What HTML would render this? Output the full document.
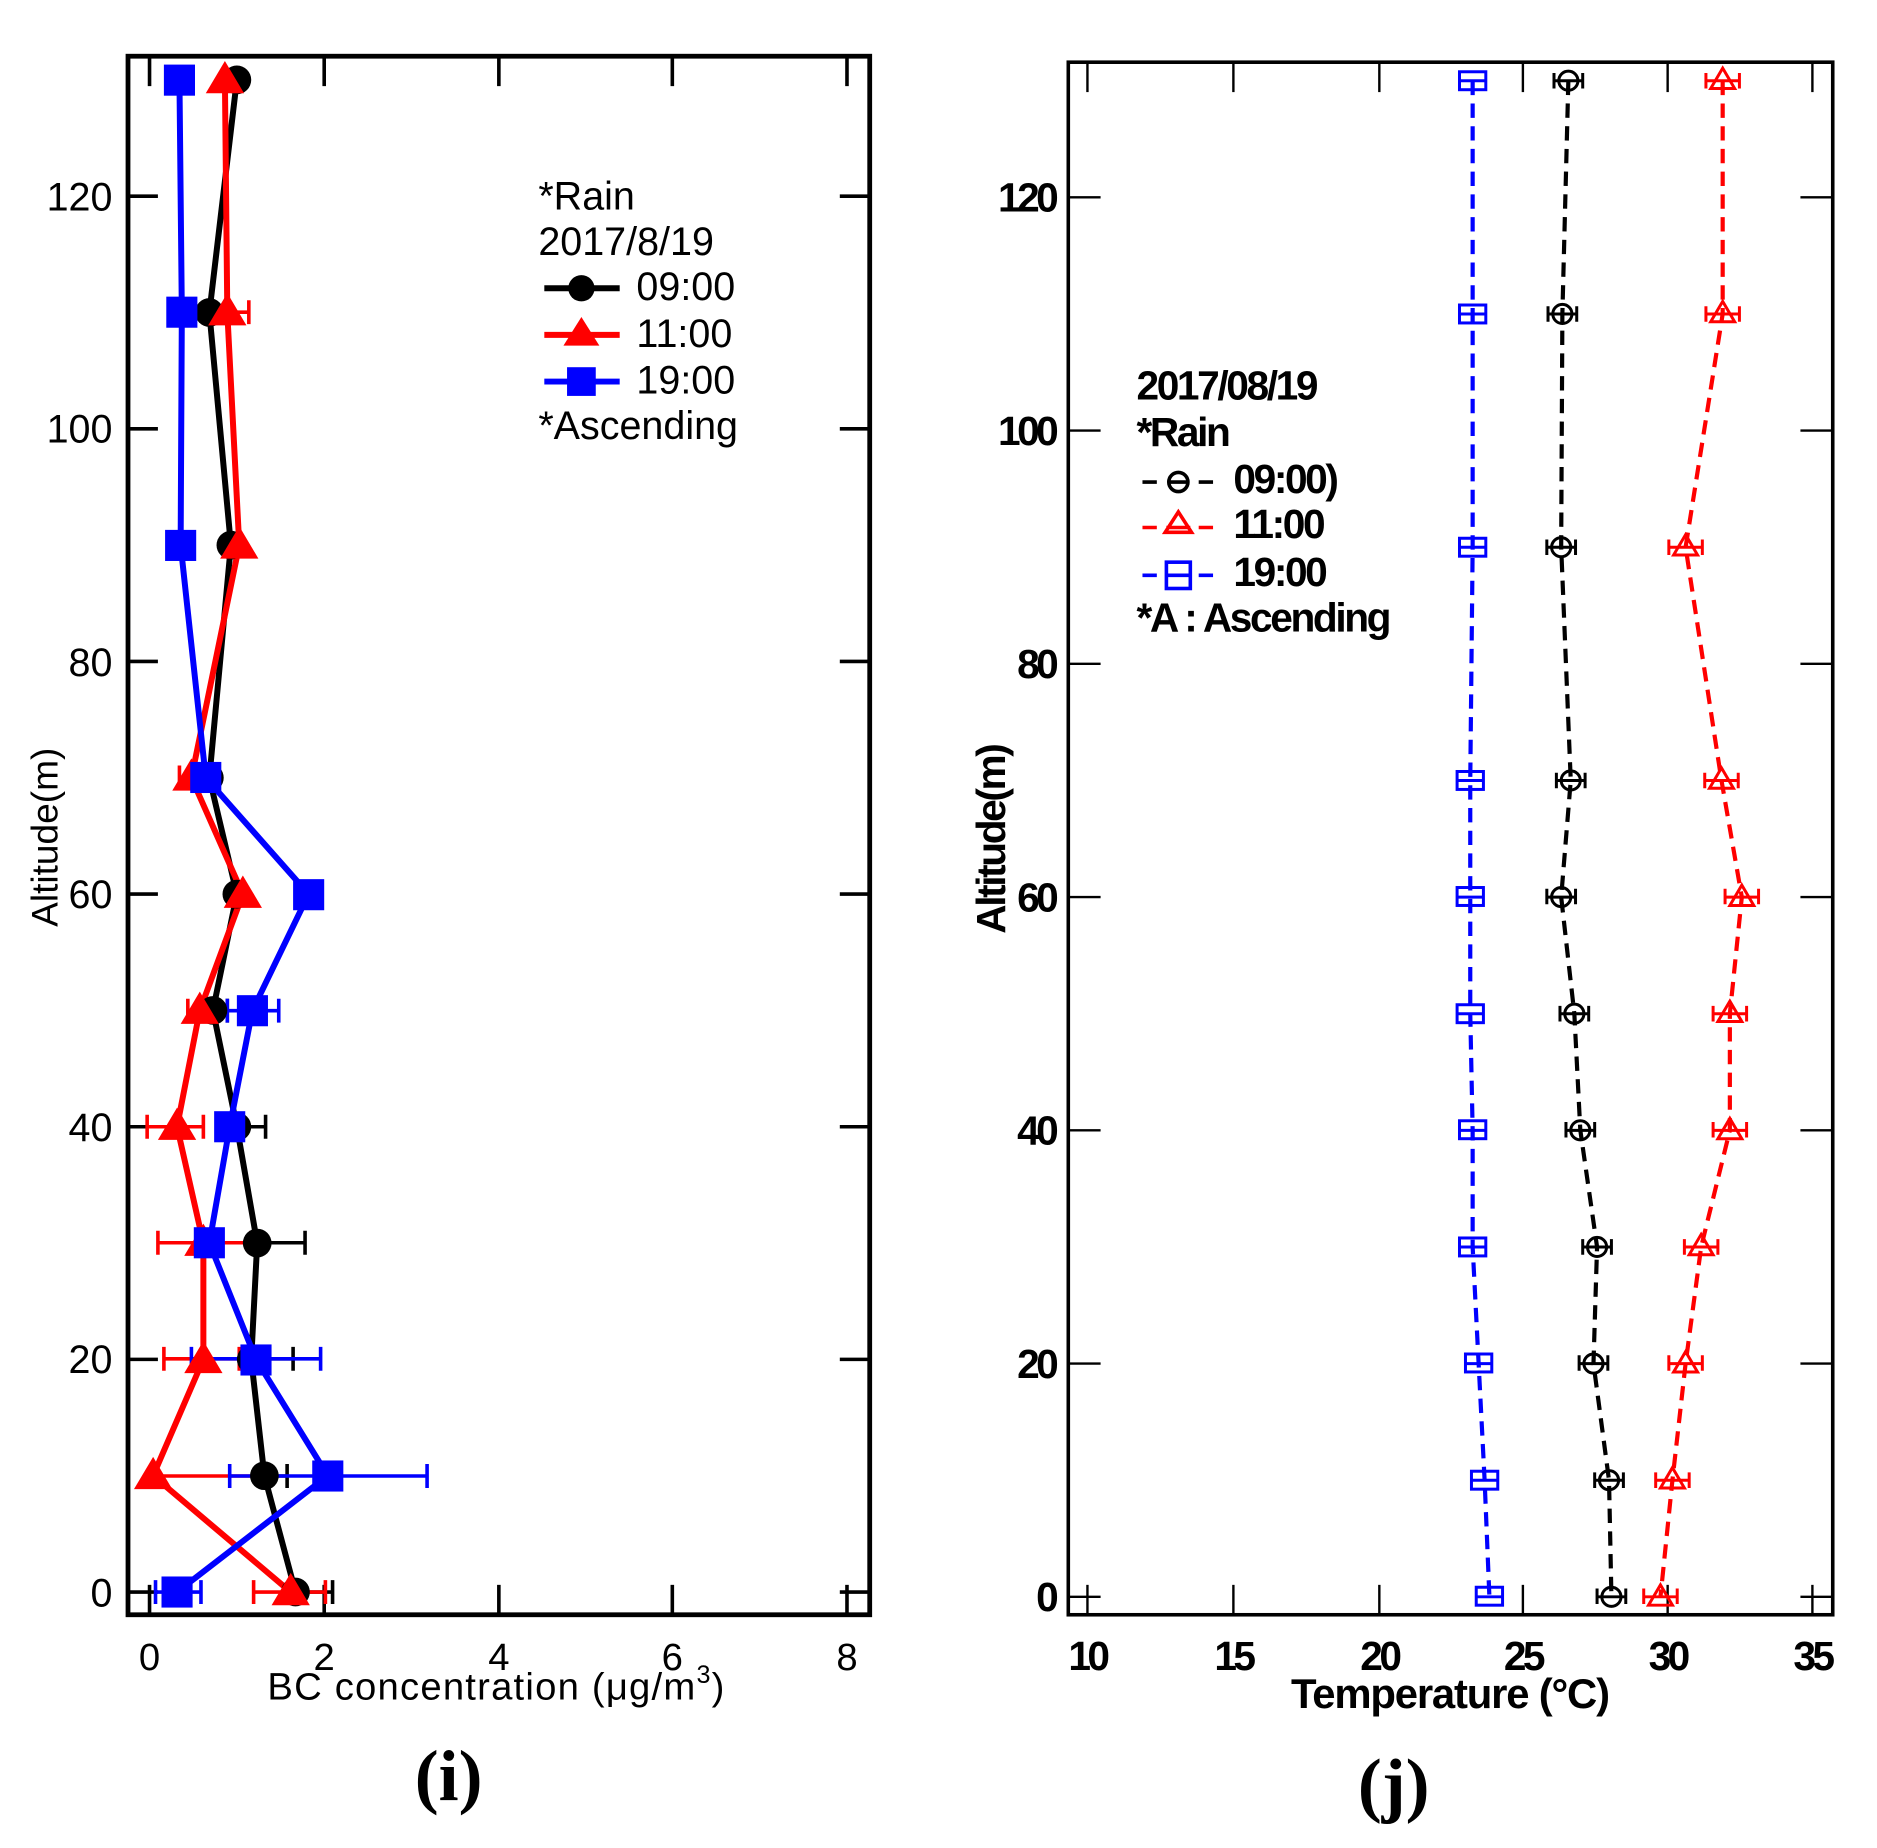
<!DOCTYPE html>
<html><head><meta charset="utf-8"><style>
html,body{margin:0;padding:0;background:#fff;}
svg{display:block;}
</style></head><body>
<svg width="1877" height="1848" viewBox="0 0 1569 1545" preserveAspectRatio="none" xmlns="http://www.w3.org/2000/svg">
<rect width="1569" height="1545" fill="#fff"/>
<g stroke="#000" stroke-width="4" fill="none">
<rect x="107" y="47" width="620" height="1303"/>
</g>
<g stroke="#000" stroke-width="3">
<line x1="107" y1="1331" x2="132" y2="1331"/><line x1="727" y1="1331" x2="702" y2="1331"/>
<line x1="107" y1="1136.5" x2="132" y2="1136.5"/><line x1="727" y1="1136.5" x2="702" y2="1136.5"/>
<line x1="107" y1="942" x2="132" y2="942"/><line x1="727" y1="942" x2="702" y2="942"/>
<line x1="107" y1="747.5" x2="132" y2="747.5"/><line x1="727" y1="747.5" x2="702" y2="747.5"/>
<line x1="107" y1="553" x2="132" y2="553"/><line x1="727" y1="553" x2="702" y2="553"/>
<line x1="107" y1="358.5" x2="132" y2="358.5"/><line x1="727" y1="358.5" x2="702" y2="358.5"/>
<line x1="107" y1="164" x2="132" y2="164"/><line x1="727" y1="164" x2="702" y2="164"/>
<line x1="125" y1="47" x2="125" y2="72"/><line x1="125" y1="1350" x2="125" y2="1325"/>
<line x1="271" y1="47" x2="271" y2="72"/><line x1="271" y1="1350" x2="271" y2="1325"/>
<line x1="417" y1="47" x2="417" y2="72"/><line x1="417" y1="1350" x2="417" y2="1325"/>
<line x1="562" y1="47" x2="562" y2="72"/><line x1="562" y1="1350" x2="562" y2="1325"/>
<line x1="708" y1="47" x2="708" y2="72"/><line x1="708" y1="1350" x2="708" y2="1325"/>
</g>
<g font-family="Liberation Sans, sans-serif" font-size="33" fill="#000" text-anchor="end">
<text x="94" y="1343">0</text><text x="94" y="1148">20</text><text x="94" y="954">40</text>
<text x="94" y="759">60</text><text x="94" y="565">80</text><text x="94" y="370">100</text><text x="94" y="176">120</text>
</g>
<g font-family="Liberation Sans, sans-serif" font-size="32" fill="#000" text-anchor="middle">
<text x="125" y="1396">0</text><text x="271" y="1396">2</text><text x="417" y="1396">4</text><text x="562" y="1396">6</text><text x="708" y="1396">8</text>
<text x="415" y="1421" letter-spacing="1">BC concentration (μg/m<tspan font-size="21" dy="-14">3</tspan><tspan dy="14">)</tspan></text>
</g>
<text transform="translate(48,700) rotate(-90)" font-family="Liberation Sans, sans-serif" font-size="31" text-anchor="middle">Altitude(m)</text>
<text x="375" y="1505" font-family="Liberation Serif, serif" font-size="60" font-weight="bold" text-anchor="middle">(i)</text>
<g stroke-width="3" fill="none">
<g stroke="#000">
<path d="M198 942H222M222 932V952M215 1039H255M255 1029V1049M210 1136H245M245 1126V1146M221 1234H240M240 1224V1244M247 1331H278M278 1321V1341M178 845H190M190 835V855"/>
</g>
<g stroke="#f00">
<path d="M172 261H208M172 251V271M208 251V271M150 650H175M150 640V660M157 845H175M157 835V855M123 942H170M123 932V952M170 932V952M132 1039H210M132 1029V1049M210 1029V1049M137 1136H200M137 1126V1146M200 1126V1146M128 1234H215M212 1331H272M212 1321V1341M272 1321V1341"/>
</g>
<g stroke="#00f">
<path d="M190 845H233M190 835V855M233 835V855M160 1136H268M160 1126V1146M268 1126V1146M192 1234H357M192 1224V1244M357 1224V1244M130 1331H168M130 1321V1341M168 1321V1341"/>
</g>
</g>
<polyline fill="none" stroke="#000" stroke-width="5" points="198,66.75 175,261.25 193,455.75 175,650.25 198,747.5 178,844.75 198,942 215,1039.25 210,1136.5 221,1233.75 247,1331"/>
<polyline fill="none" stroke="#f00" stroke-width="5" points="188,66.75 190,261.25 200,455.75 160,650.25 203,747.5 167,844.75 148,942 170,1039.25 170,1136.5 128,1233.75 243,1331"/>
<polyline fill="none" stroke="#00f" stroke-width="5" points="150,66.75 152,261.25 151,455.75 172,650.25 258,747.5 211,844.75 192,942 175,1039.25 214,1136.5 274,1233.75 148,1331"/>
<g fill="#000">
<circle cx="198" cy="66.75" r="12"/><circle cx="175" cy="261.25" r="12"/><circle cx="193" cy="455.75" r="12"/><circle cx="175" cy="650.25" r="12"/><circle cx="198" cy="747.5" r="12"/><circle cx="178" cy="844.75" r="12"/><circle cx="198" cy="942" r="12"/><circle cx="215" cy="1039.25" r="12"/><circle cx="210" cy="1136.5" r="12"/><circle cx="221" cy="1233.75" r="12"/><circle cx="247" cy="1331" r="12"/>
</g>
<g fill="#f00">
<path d="M188 51l16 27h-32z"/><path d="M190 245l16 27h-32z"/><path d="M200 440l16 27h-32z"/><path d="M160 634l16 27h-32z"/><path d="M203 732l16 27h-32z"/><path d="M167 829l16 27h-32z"/><path d="M148 926l16 27h-32z"/><path d="M170 1023l16 27h-32z"/><path d="M170 1121l16 27h-32z"/><path d="M128 1218l16 27h-32z"/><path d="M243 1315l16 27h-32z"/>
</g>
<g fill="#00f">
<rect x="137" y="54" width="26" height="26"/><rect x="139" y="248" width="26" height="26"/><rect x="138" y="443" width="26" height="26"/><rect x="159" y="637" width="26" height="26"/><rect x="245" y="735" width="26" height="26"/><rect x="198" y="832" width="26" height="26"/><rect x="179" y="929" width="26" height="26"/><rect x="162" y="1026" width="26" height="26"/><rect x="201" y="1124" width="26" height="26"/><rect x="261" y="1221" width="26" height="26"/><rect x="135" y="1318" width="26" height="26"/>
</g>
<g font-family="Liberation Sans, sans-serif" font-size="33" fill="#000">
<text x="450" y="175">*Rain</text>
<text x="450" y="213">2017/8/19</text>
<text x="532" y="251">09:00</text>
<text x="532" y="290">11:00</text>
<text x="532" y="329">19:00</text>
<text x="450" y="367">*Ascending</text>
</g>
<line x1="455" y1="241" x2="518" y2="241" stroke="#000" stroke-width="5"/><circle cx="486" cy="241" r="11"/>
<line x1="455" y1="280" x2="518" y2="280" stroke="#f00" stroke-width="5"/><path d="M486 265l15 24h-30z" fill="#f00"/>
<line x1="455" y1="319" x2="518" y2="319" stroke="#00f" stroke-width="5"/><rect x="474" y="307" width="24" height="24" fill="#00f"/>

<rect x="893" y="52" width="639" height="1298" fill="none" stroke="#000" stroke-width="3"/>
<g stroke="#000" stroke-width="2">
<line x1="893" y1="1335" x2="920" y2="1335"/><line x1="1532" y1="1335" x2="1505" y2="1335"/>
<line x1="893" y1="1140" x2="920" y2="1140"/><line x1="1532" y1="1140" x2="1505" y2="1140"/>
<line x1="893" y1="945" x2="920" y2="945"/><line x1="1532" y1="945" x2="1505" y2="945"/>
<line x1="893" y1="750" x2="920" y2="750"/><line x1="1532" y1="750" x2="1505" y2="750"/>
<line x1="893" y1="555" x2="920" y2="555"/><line x1="1532" y1="555" x2="1505" y2="555"/>
<line x1="893" y1="360" x2="920" y2="360"/><line x1="1532" y1="360" x2="1505" y2="360"/>
<line x1="893" y1="165" x2="920" y2="165"/><line x1="1532" y1="165" x2="1505" y2="165"/>
<line x1="909" y1="52" x2="909" y2="77"/><line x1="909" y1="1350" x2="909" y2="1325"/>
<line x1="1031" y1="52" x2="1031" y2="77"/><line x1="1031" y1="1350" x2="1031" y2="1325"/>
<line x1="1153" y1="52" x2="1153" y2="77"/><line x1="1153" y1="1350" x2="1153" y2="1325"/>
<line x1="1273" y1="52" x2="1273" y2="77"/><line x1="1273" y1="1350" x2="1273" y2="1325"/>
<line x1="1394" y1="52" x2="1394" y2="77"/><line x1="1394" y1="1350" x2="1394" y2="1325"/>
<line x1="1515" y1="52" x2="1515" y2="77"/><line x1="1515" y1="1350" x2="1515" y2="1325"/>
</g>
<g font-family="Liberation Sans, sans-serif" font-size="34" font-weight="bold" fill="#000" text-anchor="end" letter-spacing="-3">
<text x="882" y="1347">0</text><text x="882" y="1152">20</text><text x="882" y="957">40</text>
<text x="882" y="762">60</text><text x="882" y="567">80</text><text x="882" y="372">100</text><text x="882" y="177">120</text>
</g>
<g font-family="Liberation Sans, sans-serif" font-size="34" font-weight="bold" fill="#000" text-anchor="middle" letter-spacing="-3">
<text x="909" y="1396">10</text><text x="1031" y="1396">15</text><text x="1153" y="1396">20</text><text x="1273" y="1396">25</text><text x="1394" y="1396">30</text><text x="1515" y="1396">35</text>
</g>
<text x="1212" y="1428" font-family="Liberation Sans, sans-serif" font-size="35" font-weight="bold" text-anchor="middle" letter-spacing="-1">Temperature (°C)</text>
<text transform="translate(840,702) rotate(-90)" font-family="Liberation Sans, sans-serif" font-size="34" font-weight="bold" text-anchor="middle" letter-spacing="-2">Altitude(m)</text>
<text x="1165" y="1512" font-family="Liberation Serif, serif" font-size="60" font-weight="bold" text-anchor="middle">(j)</text>
<g fill="none" stroke-width="3.5" stroke-dasharray="12,7">
<polyline stroke="#00f" points="1231,67.5 1231,262.5 1231,457.5 1229,652.5 1229,750 1229,847.5 1231,945 1231,1042.5 1236,1140 1241,1237.5 1245,1335"/>
<polyline stroke="#000" points="1311,67.5 1306,262.5 1305,457.5 1313,652.5 1305,750 1316,847.5 1321,945 1335,1042.5 1332,1140 1345,1237.5 1347,1335"/>
<polyline stroke="#f00" points="1440,67.5 1440,262.5 1409,457.5 1439,652.5 1456,750 1446,847.5 1446,945 1422,1042.5 1409,1140 1398,1237.5 1388,1335"/>
</g>
<g fill="none" stroke-width="2.5">
<g stroke="#00f">
<rect x="1220" y="60" width="22" height="15"/><rect x="1220" y="255" width="22" height="15"/><rect x="1220" y="450" width="22" height="15"/><rect x="1218" y="645" width="22" height="15"/><rect x="1218" y="742" width="22" height="15"/><rect x="1218" y="840" width="22" height="15"/><rect x="1220" y="937" width="22" height="15"/><rect x="1220" y="1035" width="22" height="15"/><rect x="1225" y="1132" width="22" height="15"/><rect x="1230" y="1230" width="22" height="15"/><rect x="1234" y="1327" width="22" height="15"/>
<path d="M1220 67.5h22M1220 262.5h22M1220 457.5h22M1218 652.5h22M1218 750h22M1218 847.5h22M1220 945h22M1220 1042.5h22M1225 1140h22M1230 1237.5h22M1234 1335h22"/>
</g>
<g stroke="#000">
<path d="M1299 67.5h24M1294 262.5h24M1293 457.5h24M1301 652.5h24M1293 750h24M1304 847.5h24M1309 945h24M1323 1042.5h24M1320 1140h24M1333 1237.5h24M1335 1335h24"/>
<path d="M1299 61v13M1323 61v13M1294 256v13M1318 256v13M1293 451v13M1317 451v13M1301 646v13M1325 646v13M1293 743v13M1317 743v13M1304 841v13M1328 841v13M1309 938v13M1333 938v13M1323 1036v13M1347 1036v13M1320 1133v13M1344 1133v13M1333 1231v13M1357 1231v13M1335 1328v13M1359 1328v13"/>
<circle cx="1311" cy="67.5" r="8"/><circle cx="1306" cy="262.5" r="8"/><circle cx="1305" cy="457.5" r="8"/><circle cx="1313" cy="652.5" r="8"/><circle cx="1305" cy="750" r="8"/><circle cx="1316" cy="847.5" r="8"/><circle cx="1321" cy="945" r="8"/><circle cx="1335" cy="1042.5" r="8"/><circle cx="1332" cy="1140" r="8"/><circle cx="1345" cy="1237.5" r="8"/><circle cx="1347" cy="1335" r="8"/>
</g>
<g stroke="#f00">
<path d="M1426 67.5h28M1426 262.5h28M1395 457.5h28M1425 652.5h28M1442 750h28M1432 847.5h28M1432 945h28M1408 1042.5h28M1395 1140h28M1384 1237.5h28M1374 1335h28"/>
<path d="M1426 61v13M1454 61v13M1426 256v13M1454 256v13M1395 451v13M1423 451v13M1425 646v13M1453 646v13M1442 743v13M1470 743v13M1432 841v13M1460 841v13M1432 938v13M1460 938v13M1408 1036v13M1436 1036v13M1395 1133v13M1423 1133v13M1384 1231v13M1412 1231v13M1374 1328v13M1402 1328v13"/>
<path d="M1440 57l10 17h-20z"/><path d="M1440 252l10 17h-20z"/><path d="M1409 447l10 17h-20z"/><path d="M1439 642l10 17h-20z"/><path d="M1456 740l10 17h-20z"/><path d="M1446 837l10 17h-20z"/><path d="M1446 935l10 17h-20z"/><path d="M1422 1032l10 17h-20z"/><path d="M1409 1130l10 17h-20z"/><path d="M1398 1227l10 17h-20z"/><path d="M1388 1325l10 17h-20z"/>
</g>
</g>
<g font-family="Liberation Sans, sans-serif" font-size="34" font-weight="bold" fill="#000" letter-spacing="-2">
<text x="950" y="334">2017/08/19</text>
<text x="950" y="373">*Rain</text>
<text x="1031" y="412">09:00)</text>
<text x="1031" y="450">11:00</text>
<text x="1031" y="490">19:00</text>
<text x="950" y="528">*A : Ascending</text>
</g>
<g stroke-width="3" fill="none">
<path d="M955 403h12M1002 403h12" stroke="#000"/><circle cx="985" cy="403" r="8" stroke="#000"/><path d="M977 403h16" stroke="#000"/>
<path d="M955 441h12M1002 441h12" stroke="#f00"/><path d="M985 428l11 17h-22zM975 441h20" stroke="#f00"/>
<path d="M955 481h12M1002 481h12" stroke="#00f"/><rect x="975" y="470" width="20" height="22" stroke="#00f"/><path d="M975 481h20" stroke="#00f"/>
</g>
</svg>
</body></html>
